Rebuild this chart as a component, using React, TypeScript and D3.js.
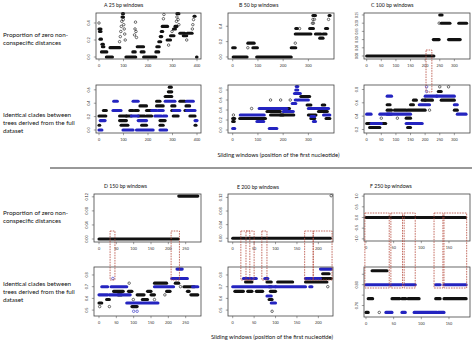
import React from "react";
import * as d3 from "d3";

type Run = [number, number, number];

// ---------- DATA (runs: [x start, x end, value]) ----------
const aTopBlack: Run[] = [
  [0, 0, 0.4], [0, 8, 0.33], [2, 8, 0.3], [4, 10, 0.21], [12, 18, 0.15], [14, 20, 0.12], [10, 32, 0.06],
  [30, 55, 0.0], [45, 85, 0.11], [84, 84, 0.18], [87, 87, 0.24], [89, 89, 0.3], [91, 91, 0.36], [93, 93, 0.42],
  [94, 100, 0.47], [96, 100, 0.51], [99, 99, 0.44], [101, 101, 0.38], [103, 103, 0.33], [105, 105, 0.27], [107, 107, 0.2],
  [110, 150, 0.0], [138, 148, 0.06], [145, 145, 0.26], [147, 147, 0.33], [149, 149, 0.41], [151, 151, 0.3], [153, 153, 0.23],
  [156, 182, 0.12], [172, 184, 0.06], [182, 232, 0.0], [232, 244, 0.06], [236, 246, 0.12], [244, 252, 0.18],
  [250, 256, 0.24], [254, 260, 0.3], [258, 266, 0.36], [263, 263, 0.45], [265, 265, 0.5], [268, 280, 0.36],
  [278, 292, 0.2], [284, 284, 0.14], [292, 306, 0.25], [298, 298, 0.3], [304, 312, 0.33], [310, 318, 0.36],
  [316, 316, 0.42], [318, 318, 0.47], [318, 326, 0.51], [323, 323, 0.44], [326, 326, 0.38], [330, 350, 0.28],
  [344, 358, 0.25], [358, 358, 0.2], [360, 380, 0.28], [381, 381, 0.33], [383, 383, 0.38], [386, 386, 0.44],
  [388, 392, 0.48], [398, 400, 0.0],
];
const aBotBlack: Run[] = [
  [0, 3, 0.07], [0, 28, 0.21], [18, 30, 0.29], [84, 112, 0.21], [84, 112, 0.14], [90, 118, 0.07], [112, 132, 0.21],
  [126, 139, 0.29], [146, 160, 0.29], [160, 187, 0.21], [167, 194, 0.36], [174, 194, 0.07], [194, 215, 0.21],
  [194, 215, 0.29], [235, 249, 0.43], [235, 262, 0.36], [249, 270, 0.14], [249, 262, 0.07], [270, 297, 0.5],
  [283, 297, 0.57], [287, 295, 0.64], [297, 310, 0.36], [297, 310, 0.29], [303, 323, 0.21], [330, 351, 0.43],
  [351, 378, 0.29], [355, 370, 0.36], [371, 392, 0.21], [392, 396, 0.07],
];
const aBotBlue: Run[] = [
  [0, 12, 0.0], [5, 25, 0.14], [57, 90, 0.29], [60, 75, 0.43], [98, 139, 0.0], [132, 160, 0.21], [139, 160, 0.43],
  [160, 194, 0.14], [153, 221, 0.0], [215, 235, 0.29], [228, 255, 0.21], [242, 262, 0.29], [249, 276, 0.0],
  [262, 276, 0.21], [270, 310, 0.43], [303, 330, 0.29], [357, 385, 0.43], [357, 392, 0.29], [392, 400, 0.14],
];

const bTopBlack: Run[] = [
  [0, 10, 0.12], [2, 57, 0.0], [60, 60, 0.12], [60, 85, 0.18], [80, 98, 0.12], [95, 232, 0.0], [232, 250, 0.12],
  [248, 248, 0.18], [250, 256, 0.37], [248, 310, 0.3], [265, 265, 0.37], [305, 320, 0.37], [316, 316, 0.44],
  [320, 320, 0.44], [318, 318, 0.49], [324, 324, 0.49], [318, 328, 0.54], [328, 350, 0.3], [345, 358, 0.245],
  [358, 370, 0.3], [368, 376, 0.37], [380, 380, 0.49], [382, 386, 0.54],
];
const bBotBlack: Run[] = [
  [0, 6, 0.17], [0, 8, 0.23], [3, 3, 0.3], [28, 130, 0.23], [75, 75, 0.43], [136, 189, 0.37], [150, 200, 0.3],
  [150, 150, 0.6], [190, 190, 0.6], [228, 228, 0.6], [190, 242, 0.3], [210, 225, 0.43], [270, 305, 0.67],
  [295, 310, 0.5], [300, 330, 0.3], [310, 325, 0.23], [340, 375, 0.37], [355, 365, 0.5], [370, 385, 0.23],
];
const bBotBlue: Run[] = [
  [0, 8, 0.03], [30, 125, 0.3], [96, 123, 0.17], [105, 215, 0.43], [145, 175, 0.03], [200, 240, 0.37],
  [236, 250, 0.53], [245, 258, 0.73], [248, 255, 0.6], [250, 258, 0.8], [252, 258, 0.87], [255, 268, 0.73],
  [260, 300, 0.6], [300, 330, 0.43], [310, 325, 0.27], [320, 328, 0.17], [330, 380, 0.43], [360, 385, 0.3],
];

const cTopBlack: Run[] = [
  [0, 230, 0.0], [228, 248, 0.1], [250, 258, 0.25], [248, 248, 0.2], [255, 285, 0.2], [280, 320, 0.1], [315, 342, 0.2],
];
const cBotBlack: Run[] = [
  [0, 25, 0.29], [10, 45, 0.23], [50, 50, 0.37], [55, 65, 0.29], [70, 80, 0.57], [70, 85, 0.49], [85, 85, 0.43],
  [95, 135, 0.49], [105, 105, 0.37], [135, 150, 0.37], [140, 150, 0.23], [140, 200, 0.49], [150, 160, 0.57],
  [160, 170, 0.64], [190, 200, 0.64], [200, 225, 0.64], [215, 215, 0.49], [245, 255, 0.77], [250, 250, 0.84],
  [280, 280, 0.84], [255, 300, 0.64], [300, 310, 0.49],
];
const cBotBlue: Run[] = [
  [0, 15, 0.43], [15, 50, 0.29], [45, 80, 0.43], [70, 85, 0.7], [70, 150, 0.43], [135, 190, 0.29], [180, 215, 0.57],
  [200, 240, 0.7], [205, 205, 0.84], [205, 205, 0.77], [240, 300, 0.7], [300, 310, 0.57], [310, 340, 0.43],
];

const dTopBlack: Run[] = [[0, 229, 0.0], [230, 285, 0.122]];
const dBotBlack: Run[] = [
  [0, 8, 0.56], [2, 2, 0.53], [22, 30, 0.59], [30, 30, 0.53], [42, 70, 0.66], [55, 65, 0.63], [87, 87, 0.73],
  [85, 95, 0.66], [95, 110, 0.53], [99, 99, 0.59], [110, 130, 0.63], [125, 140, 0.59], [140, 150, 0.66],
  [150, 160, 0.63], [160, 160, 0.59], [160, 195, 0.73], [190, 190, 0.63], [195, 205, 0.66], [220, 230, 0.73],
  [235, 235, 0.7], [245, 275, 0.7], [255, 260, 0.66], [265, 285, 0.63],
];
const dBotBlue: Run[] = [
  [0, 25, 0.63], [8, 25, 0.7], [35, 80, 0.7], [30, 90, 0.63], [40, 40, 0.77], [80, 170, 0.56], [100, 100, 0.49],
  [110, 110, 0.49], [160, 215, 0.7], [210, 255, 0.77], [225, 240, 0.85], [270, 285, 0.7],
];

const eTopBlack: Run[] = [[0, 228, 0.0], [230, 230, 0.125]];
const eBotBlack: Run[] = [
  [5, 25, 0.66], [30, 45, 0.74], [35, 45, 0.66], [55, 70, 0.66], [80, 90, 0.74], [85, 90, 0.7], [88, 100, 0.66],
  [85, 92, 0.59], [92, 92, 0.49], [105, 140, 0.74], [170, 220, 0.74], [195, 230, 0.77], [210, 225, 0.81], [222, 222, 0.7],
];
const eBotBlue: Run[] = [
  [0, 100, 0.7], [25, 45, 0.77], [50, 55, 0.77], [75, 82, 0.77], [80, 90, 0.62], [90, 100, 0.56], [100, 170, 0.7],
  [170, 205, 0.77], [180, 185, 0.7], [205, 230, 0.85],
];

const fTopBlack: Run[] = [[0, 180, 0.0]];
const fBotBlack: Run[] = [
  [0, 4, 0.667], [24, 24, 0.667], [11, 38, 0.867], [4, 12, 0.733], [47, 61, 0.733], [65, 72, 0.733],
  [76, 96, 0.733], [126, 134, 0.733], [141, 181, 0.733],
];
const fBotBlue: Run[] = [
  [0, 42, 0.8], [45, 65, 0.8], [69, 89, 0.8], [126, 134, 0.8], [141, 181, 0.8], [36, 47, 0.667], [65, 71, 0.667],
  [87, 128, 0.667], [130, 141, 0.667],
];

// highlighted windows (x ranges, in each panel's units)
const cHighlight: [number, number][] = [[203, 223]];
const dHighlight: [number, number][] = [[32, 46], [208, 232]];
const eHighlight: [number, number][] = [[19, 40], [31, 50], [68, 80], [168, 188], [188, 232]];
const fHighlight: [number, number][] = [[-2, 42], [45, 66], [69, 89], [123, 139], [141, 182]];

// tick values / labels
const aXTicks = [0, 100, 200, 300, 400];
const bXTicks = [0, 100, 200, 300];
const cXTicks = [0, 50, 100, 150, 200, 250, 300];
const dXTicks = [0, 50, 100, 150, 200, 250];
const eXTicks = [0, 50, 100, 150, 200];
const fXTicks = [0, 50, 100, 150];

const aTopYTicks = [0, 0.2, 0.4];
const aTopYLabels = ["0.0", "0.2", "0.4"];
const aBotYTicks = [0, 0.2, 0.4, 0.6];
const aBotYLabels = ["0.0", "0.2", "0.4", "0.6"];
const bTopYTicks = [0, 0.2, 0.4];
const bTopYLabels = ["0.0", "0.2", "0.4"];
const bBotYTicks = [0, 0.2, 0.4, 0.6, 0.8];
const bBotYLabels = ["0.0", "0.2", "0.4", "0.6", "0.8"];
const cTopYTicks = [0, 0.05, 0.1, 0.15, 0.2, 0.25];
const cTopYLabels = ["0.00", "0.05", "0.10", "0.15", "0.20", "0.25"];
const cBotYTicks = [0.2, 0.4, 0.6, 0.8];
const cBotYLabels = ["0.2", "0.4", "0.6", "0.8"];
const deTopYTicks = [0, 0.04, 0.08, 0.12];
const deTopYLabels = ["0.00", "0.04", "0.08", "0.12"];
const deBotYTicks = [0.5, 0.6, 0.7, 0.8];
const deBotYLabels = ["0.5", "0.6", "0.7", "0.8"];
const fTopYTicks = [-1, -0.5, 0, 0.5, 1];
const fTopYLabels = ["-1.0", "-0.5", "0.0", "0.5", "1.0"];
const fBotYTicks = [0.7, 0.75, 0.8, 0.85];
const fBotYLabels = ["0.70", "", "0.80", ""];

const titles = ["A 25 bp windows", "B 50 bp windows", "C 100 bp windows", "D 150 bp windows", "E 200 bp windows", "F 250 bp windows"];
const rowLabel1 = ["Proportion of zero non-", "conspecific distances"];
const rowLabel2 = ["Identical clades between", "trees derived from the full", "dataset"];
const xAxisTitle = "Sliding windows (position of the first nucleotide)";

// ---------- STYLE ----------
const BLACK = "#111";
const BLUE = "#2424c0";
const RED = "#b54a3c";
const FONT = "Lato, 'Open Sans', sans-serif";

type Box = { l: number; r: number; t: number; b: number };
type PanelProps = {
  box: Box;
  xDomain: [number, number];
  yDomain: [number, number];
  xTicks: number[];
  yTicks: number[];
  yLabels: string[];
  black: Run[];
  blue?: Run[];
  yFont?: number;
};

function Marks({ runs, color, x, y }: { runs: Run[]; color: string; x: any; y: any }) {
  const line = d3.line<[number, number]>().x((d) => x(d[0])).y((d) => y(d[1]));
  return (
    <g>
      {runs.map((r, i) =>
        r[0] === r[1] ? (
          <circle key={i} cx={x(r[0])} cy={y(r[2])} r={1.25} fill="none" stroke={color} strokeWidth={0.6} />
        ) : (
          <path key={i} d={line([[r[0], r[2]], [r[1], r[2]]]) || ""} stroke={color} strokeWidth={3.1} strokeLinecap="round" fill="none" />
        )
      )}
    </g>
  );
}

function Panel(p: PanelProps) {
  const x = d3.scaleLinear().domain(p.xDomain).range([p.box.l, p.box.r]);
  const y = d3.scaleLinear().domain(p.yDomain).range([p.box.b, p.box.t]);
  const { l, r, t, b } = p.box;
  const yf = p.yFont ?? 3.8;
  return (
    <g>
      <Marks runs={p.black} color={BLACK} x={x} y={y} />
      {p.blue && <Marks runs={p.blue} color={BLUE} x={x} y={y} />}
      <rect x={l} y={t} width={r - l} height={b - t} fill="none" stroke="#444" strokeWidth={0.8} />
      {p.xTicks.map((v) => (
        <g key={"x" + v}>
          <line x1={x(v)} x2={x(v)} y1={b} y2={b + 2.2} stroke="#444" strokeWidth={0.5} />
          <text x={x(v)} y={b + 8} fontSize={3.8} textAnchor="middle" fill="#333" fontFamily={FONT}>{v}</text>
        </g>
      ))}
      {p.yTicks.map((v, i) => (
        <g key={"y" + i}>
          <line x1={l} x2={l - 2.2} y1={y(v)} y2={y(v)} stroke="#444" strokeWidth={0.5} />
          {p.yLabels[i] && (
            <text x={l - 6} y={y(v)} fontSize={yf} textAnchor="middle" fill="#333" fontFamily={FONT}
              transform={`rotate(-90 ${l - 6} ${y(v)})`}>{p.yLabels[i]}</text>
          )}
        </g>
      ))}
    </g>
  );
}

function Highlights({ ranges, xDomain, box, y0, y1 }: { ranges: [number, number][]; xDomain: [number, number]; box: Box; y0: number; y1: number }) {
  const x = d3.scaleLinear().domain(xDomain).range([box.l, box.r]);
  return (
    <g>
      {ranges.map((h, i) => (
        <rect key={i} x={x(h[0])} y={y0} width={x(h[1]) - x(h[0])} height={y1 - y0} fill="none" stroke={RED}
          strokeWidth={0.8} strokeDasharray="1.6,1" />
      ))}
    </g>
  );
}

const boxes = {
  aT: { l: 96, r: 201, t: 13, b: 59 }, aB: { l: 96, r: 201, t: 85, b: 133 },
  bT: { l: 228, r: 334, t: 13, b: 59 }, bB: { l: 228, r: 334, t: 85, b: 133 },
  cT: { l: 364, r: 470, t: 13, b: 59 }, cB: { l: 364, r: 470, t: 85, b: 133 },
  dT: { l: 94, r: 201, t: 194, b: 242 }, dB: { l: 94, r: 201, t: 267, b: 316 },
  eT: { l: 228, r: 333, t: 194, b: 242 }, eB: { l: 228, r: 333, t: 267, b: 316 },
  fT: { l: 364, r: 470, t: 194, b: 241 }, fB: { l: 364, r: 470, t: 267, b: 317 },
};

const aX: [number, number] = [-12.2, 416.3];
const bX: [number, number] = [-18.6, 401.5];
const cX: [number, number] = [-9.2, 353.5];
const dX: [number, number] = [-14.4, 294.2];
const eX: [number, number] = [-11, 234.2];
const fX: [number, number] = [-3.6, 188];

export default function App() {
  const labelProps = { fontSize: 6.3, fill: "#111", fontFamily: FONT };
  return (
    <svg width={474} height={342} style={{ position: "absolute", left: 0, top: 0, background: "#fff" }}>
      <rect width={474} height={342} fill="#fff" />
      {rowLabel1.map((s, i) => <text key={"r1" + i} x={3} y={36.5 + i * 8} {...labelProps}>{s}</text>)}
      {rowLabel2.map((s, i) => <text key={"r2" + i} x={3} y={117 + i * 8} {...labelProps}>{s}</text>)}
      {rowLabel1.map((s, i) => <text key={"r3" + i} x={3} y={214.5 + i * 8} {...labelProps}>{s}</text>)}
      {rowLabel2.map((s, i) => <text key={"r4" + i} x={3} y={286 + i * 8} {...labelProps}>{s}</text>)}

      <text x={104} y={7} fontSize={5.2} fontFamily={FONT} fill="#111">{titles[0]}</text>
      <text x={239} y={7} fontSize={5.2} fontFamily={FONT} fill="#111">{titles[1]}</text>
      <text x={371} y={7} fontSize={5.2} fontFamily={FONT} fill="#111">{titles[2]}</text>
      <text x={104} y={188} fontSize={5.2} fontFamily={FONT} fill="#111">{titles[3]}</text>
      <text x={237} y={188.5} fontSize={5.2} fontFamily={FONT} fill="#111">{titles[4]}</text>
      <text x={370} y={188} fontSize={5.2} fontFamily={FONT} fill="#111">{titles[5]}</text>

      <Panel box={boxes.aT} xDomain={aX} yDomain={[-0.0235, 0.5176]} xTicks={aXTicks} yTicks={aTopYTicks} yLabels={aTopYLabels} black={aTopBlack} />
      <Panel box={boxes.aB} xDomain={aX} yDomain={[-0.045, 0.672]} xTicks={aXTicks} yTicks={aBotYTicks} yLabels={aBotYLabels} black={aBotBlack} blue={aBotBlue} />
      <Panel box={boxes.bT} xDomain={bX} yDomain={[-0.0267, 0.573]} xTicks={bXTicks} yTicks={bTopYTicks} yLabels={bTopYLabels} black={bTopBlack} />
      <Panel box={boxes.bB} xDomain={bX} yDomain={[-0.06, 0.9]} xTicks={bXTicks} yTicks={bBotYTicks} yLabels={bBotYLabels} black={bBotBlack} blue={bBotBlue} />
      <Panel box={boxes.cT} xDomain={cX} yDomain={[-0.0183, 0.262]} xTicks={cXTicks} yTicks={cTopYTicks} yLabels={cTopYLabels} black={cTopBlack} yFont={3.1} />
      <Panel box={boxes.cB} xDomain={cX} yDomain={[0.1475, 0.867]} xTicks={cXTicks} yTicks={cBotYTicks} yLabels={cBotYLabels} black={cBotBlack} blue={cBotBlue} />

      <Panel box={boxes.dT} xDomain={dX} yDomain={[-0.0085, 0.128]} xTicks={dXTicks} yTicks={deTopYTicks} yLabels={deTopYLabels} black={dTopBlack} />
      <Panel box={boxes.dB} xDomain={dX} yDomain={[0.4496, 0.868]} xTicks={dXTicks} yTicks={deBotYTicks} yLabels={deBotYLabels} black={dBotBlack} blue={dBotBlue} />
      <Panel box={boxes.eT} xDomain={eX} yDomain={[-0.0109, 0.13]} xTicks={eXTicks} yTicks={deTopYTicks} yLabels={deTopYLabels} black={eTopBlack} />
      <Panel box={boxes.eB} xDomain={eX} yDomain={[0.4496, 0.868]} xTicks={eXTicks} yTicks={deBotYTicks} yLabels={deBotYLabels} black={eBotBlack} blue={eBotBlue} />
      <Panel box={boxes.fT} xDomain={fX} yDomain={[-1.1, 1.1]} xTicks={fXTicks} yTicks={fTopYTicks} yLabels={fTopYLabels} black={fTopBlack} />
      <Panel box={boxes.fB} xDomain={fX} yDomain={[0.645, 0.885]} xTicks={fXTicks} yTicks={fBotYTicks} yLabels={fBotYLabels} black={fBotBlack} blue={fBotBlue} />

      <Highlights ranges={cHighlight} xDomain={cX} box={boxes.cT} y0={50} y1={92} />
      <Highlights ranges={dHighlight} xDomain={dX} box={boxes.dT} y0={231} y1={280} />
      <Highlights ranges={eHighlight} xDomain={eX} box={boxes.eT} y0={231} y1={280} />
      <Highlights ranges={fHighlight} xDomain={fX} box={boxes.fT} y0={213} y1={288} />

      <text x={278.5} y={157} fontSize={5.8} textAnchor="middle" fontFamily={FONT} fill="#111">{xAxisTitle}</text>
      <line x1={50} x2={472} y1={168} y2={168} stroke="#333" strokeWidth={1} />
      <text x={272} y={339} fontSize={5.8} textAnchor="middle" fontFamily={FONT} fill="#111">{xAxisTitle}</text>
    </svg>
  );
}
